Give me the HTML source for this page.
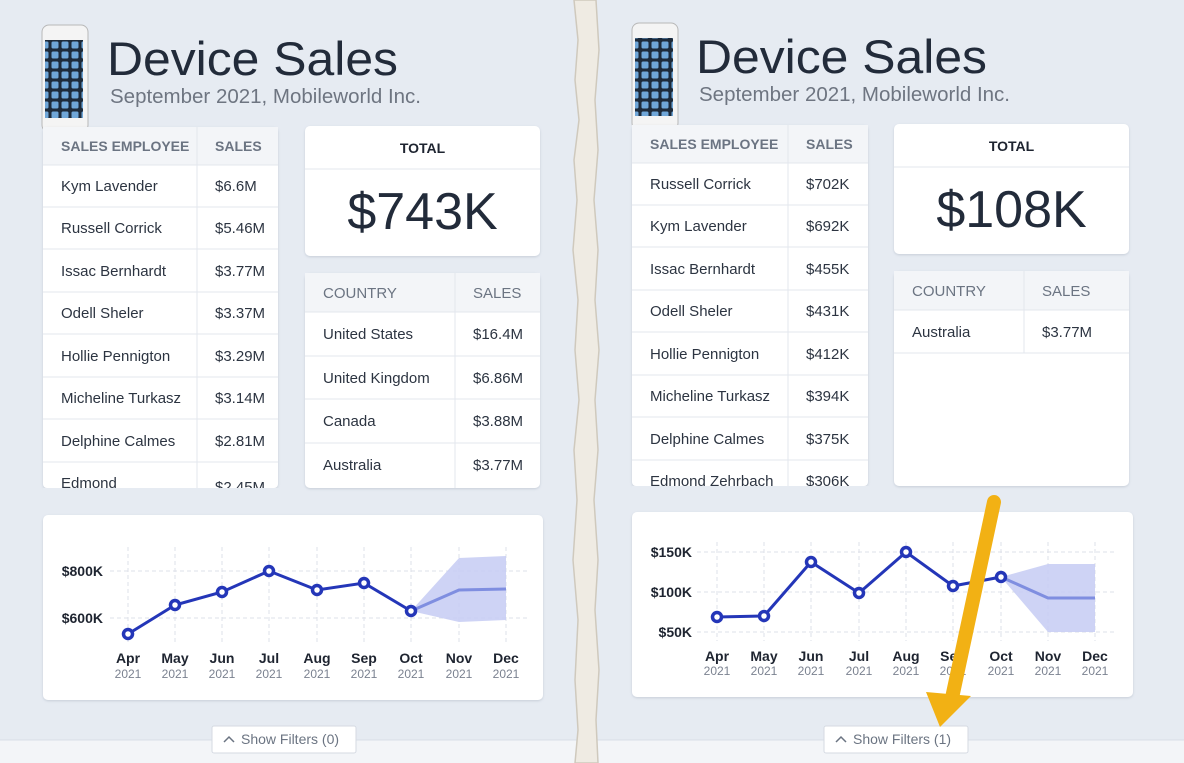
<!DOCTYPE html>
<html><head><meta charset="utf-8"><style>
html,body{margin:0;padding:0;background:#e6ebf2;}
svg{display:block;font-family:"Liberation Sans",sans-serif;}
</style></head><body>
<svg width="1184" height="763" viewBox="0 0 1184 763" xmlns="http://www.w3.org/2000/svg">
<defs>
<filter id="sh" x="-5%" y="-5%" width="110%" height="110%"><feDropShadow dx="0" dy="1" stdDeviation="1.2" flood-color="#8a94a6" flood-opacity="0.35"/></filter>
<pattern id="icons" width="10" height="10" patternUnits="userSpaceOnUse"><rect width="10" height="10" fill="#1d2a3a"/><rect x="1.5" y="1.5" width="7" height="7" rx="1.5" fill="#6fa6d8"/></pattern>
</defs>
<rect width="1184" height="763" fill="#e6ebf2"/>
<rect x="0" y="740" width="1184" height="23" fill="#f3f5f8"/>
<line x1="0" y1="740" x2="1184" y2="740" stroke="#d8dee7"/>

<g>
<rect x="42" y="25" width="46" height="107" rx="7" fill="#f4f4f4" stroke="#b8b8b8"/>
<rect x="45" y="40" width="38" height="78" fill="url(#icons)"/>
<text x="107" y="75" font-size="47" fill="#222b3a" textLength="291" lengthAdjust="spacingAndGlyphs">Device Sales</text>
<text x="110" y="103" font-size="20" fill="#6e7581" textLength="311" lengthAdjust="spacingAndGlyphs">September 2021, Mobileworld Inc.</text>

<g filter="url(#sh)"><rect x="43" y="127" width="235" height="361" rx="4" fill="#fff"/></g>
<rect x="43" y="127" width="235" height="38" fill="#f3f5f8"/>
<line x1="197" y1="127" x2="197" y2="488" stroke="#e3e7ed"/>
<g font-size="14" fill="#6b7482" font-weight="bold"><text x="61" y="151">SALES EMPLOYEE</text><text x="215" y="151">SALES</text></g>
<g stroke="#e3e7ed"><line x1="43" y1="165" x2="278" y2="165"/><line x1="43" y1="207" x2="278" y2="207"/><line x1="43" y1="249" x2="278" y2="249"/><line x1="43" y1="292" x2="278" y2="292"/><line x1="43" y1="334" x2="278" y2="334"/><line x1="43" y1="377" x2="278" y2="377"/><line x1="43" y1="419" x2="278" y2="419"/><line x1="43" y1="462" x2="278" y2="462"/></g>
<g font-size="15" fill="#2c3441">
<text x="61" y="191">Kym Lavender</text><text x="215" y="191">$6.6M</text>
<text x="61" y="233">Russell Corrick</text><text x="215" y="233">$5.46M</text>
<text x="61" y="276">Issac Bernhardt</text><text x="215" y="276">$3.77M</text>
<text x="61" y="318">Odell Sheler</text><text x="215" y="318">$3.37M</text>
<text x="61" y="361">Hollie Pennigton</text><text x="215" y="361">$3.29M</text>
<text x="61" y="403">Micheline Turkasz</text><text x="215" y="403">$3.14M</text>
<text x="61" y="446">Delphine Calmes</text><text x="215" y="446">$2.81M</text>
<text x="61" y="488">Edmond</text><text x="215" y="492">$2.45M</text>
</g>
<rect x="43" y="488" width="236" height="8" fill="#e6ebf2"/>

<g filter="url(#sh)"><rect x="305" y="126" width="235" height="130" rx="5" fill="#fff"/></g>
<line x1="305" y1="169" x2="540" y2="169" stroke="#e3e7ed"/>
<text x="422.5" y="153" font-size="14" font-weight="bold" fill="#1e2430" text-anchor="middle">TOTAL</text>
<text x="422.5" y="229" font-size="52" fill="#222b3a" text-anchor="middle">$743K</text>

<g filter="url(#sh)"><rect x="305" y="273" width="235" height="215" rx="5" fill="#fff"/></g>
<rect x="305" y="273" width="235" height="39" fill="#f3f5f8"/>
<line x1="455" y1="273" x2="455" y2="488" stroke="#e3e7ed"/>
<g stroke="#e3e7ed"><line x1="305" y1="312" x2="540" y2="312"/><line x1="305" y1="356" x2="540" y2="356"/><line x1="305" y1="399" x2="540" y2="399"/><line x1="305" y1="443" x2="540" y2="443"/></g>
<g font-size="15" fill="#6b7482"><text x="323" y="298">COUNTRY</text><text x="473" y="298">SALES</text></g>
<g font-size="15" fill="#2c3441">
<text x="323" y="339">United States</text><text x="473" y="339">$16.4M</text>
<text x="323" y="383">United Kingdom</text><text x="473" y="383">$6.86M</text>
<text x="323" y="426">Canada</text><text x="473" y="426">$3.88M</text>
<text x="323" y="470">Australia</text><text x="473" y="470">$3.77M</text>
</g>

<g filter="url(#sh)"><rect x="43" y="515" width="500" height="185" rx="5" fill="#fff"/></g>
<g stroke="#dde1e8" stroke-dasharray="4,3">
<line x1="128" y1="547" x2="128" y2="643"/><line x1="175" y1="547" x2="175" y2="643"/><line x1="222" y1="547" x2="222" y2="643"/><line x1="269" y1="547" x2="269" y2="643"/><line x1="317" y1="547" x2="317" y2="643"/><line x1="364" y1="547" x2="364" y2="643"/><line x1="411" y1="547" x2="411" y2="643"/><line x1="459" y1="547" x2="459" y2="643"/><line x1="506" y1="547" x2="506" y2="643"/>
<line x1="110" y1="571" x2="528" y2="571"/><line x1="110" y1="618" x2="528" y2="618"/>
</g>
<g font-size="14" font-weight="bold" fill="#1e2430" text-anchor="end"><text x="103" y="576">$800K</text><text x="103" y="623">$600K</text></g>
<polygon points="411,611 459,558 506,556 506,620 459,622" fill="#c5cbf3" opacity="0.85"/>
<polyline points="411,611 459,590 506,589" fill="none" stroke="#7f8ee0" stroke-width="3"/>
<polyline points="128,634 175,605 222,592 269,571 317,590 364,583 411,611" fill="none" stroke="#2436b8" stroke-width="3"/>
<g fill="#fff" stroke="#2436b8" stroke-width="3.5"><circle cx="128" cy="634" r="4.5"/><circle cx="175" cy="605" r="4.5"/><circle cx="222" cy="592" r="4.5"/><circle cx="269" cy="571" r="4.5"/><circle cx="317" cy="590" r="4.5"/><circle cx="364" cy="583" r="4.5"/><circle cx="411" cy="611" r="4.5"/></g>
<g font-size="14" font-weight="bold" fill="#1e2430" text-anchor="middle"><text x="128" y="663">Apr</text><text x="175" y="663">May</text><text x="222" y="663">Jun</text><text x="269" y="663">Jul</text><text x="317" y="663">Aug</text><text x="364" y="663">Sep</text><text x="411" y="663">Oct</text><text x="459" y="663">Nov</text><text x="506" y="663">Dec</text></g>
<g font-size="12" fill="#7b8290" text-anchor="middle"><text x="128" y="678">2021</text><text x="175" y="678">2021</text><text x="222" y="678">2021</text><text x="269" y="678">2021</text><text x="317" y="678">2021</text><text x="364" y="678">2021</text><text x="411" y="678">2021</text><text x="459" y="678">2021</text><text x="506" y="678">2021</text></g>

<rect x="212" y="726" width="144" height="27" rx="2" fill="#fff" stroke="#d5dae2"/>
<polyline points="224,742 229,737 234,742" fill="none" stroke="#6b7482" stroke-width="1.5"/>
<text x="241" y="744" font-size="14" fill="#6b7482">Show Filters (0)</text>
</g>

<g>
<rect x="632" y="23" width="46" height="107" rx="7" fill="#f4f4f4" stroke="#b8b8b8"/>
<rect x="635" y="38" width="38" height="78" fill="url(#icons)"/>
<text x="696" y="73" font-size="47" fill="#222b3a" textLength="291" lengthAdjust="spacingAndGlyphs">Device Sales</text>
<text x="699" y="101" font-size="20" fill="#6e7581" textLength="311" lengthAdjust="spacingAndGlyphs">September 2021, Mobileworld Inc.</text>

<g filter="url(#sh)"><rect x="632" y="125" width="236" height="361" rx="4" fill="#fff"/></g>
<rect x="632" y="125" width="236" height="38" fill="#f3f5f8"/>
<line x1="788" y1="125" x2="788" y2="486" stroke="#e3e7ed"/>
<g font-size="14" fill="#6b7482" font-weight="bold"><text x="650" y="149">SALES EMPLOYEE</text><text x="806" y="149">SALES</text></g>
<g stroke="#e3e7ed"><line x1="632" y1="163" x2="868" y2="163"/><line x1="632" y1="205" x2="868" y2="205"/><line x1="632" y1="247" x2="868" y2="247"/><line x1="632" y1="290" x2="868" y2="290"/><line x1="632" y1="332" x2="868" y2="332"/><line x1="632" y1="375" x2="868" y2="375"/><line x1="632" y1="417" x2="868" y2="417"/><line x1="632" y1="460" x2="868" y2="460"/></g>
<g font-size="15" fill="#2c3441">
<text x="650" y="189">Russell Corrick</text><text x="806" y="189">$702K</text>
<text x="650" y="231">Kym Lavender</text><text x="806" y="231">$692K</text>
<text x="650" y="274">Issac Bernhardt</text><text x="806" y="274">$455K</text>
<text x="650" y="316">Odell Sheler</text><text x="806" y="316">$431K</text>
<text x="650" y="359">Hollie Pennigton</text><text x="806" y="359">$412K</text>
<text x="650" y="401">Micheline Turkasz</text><text x="806" y="401">$394K</text>
<text x="650" y="444">Delphine Calmes</text><text x="806" y="444">$375K</text>
<text x="650" y="486">Edmond Zehrbach</text><text x="806" y="486">$306K</text>
</g>
<rect x="632" y="486" width="237" height="8" fill="#e6ebf2"/>

<g filter="url(#sh)"><rect x="894" y="124" width="235" height="130" rx="5" fill="#fff"/></g>
<line x1="894" y1="167" x2="1129" y2="167" stroke="#e3e7ed"/>
<text x="1011.5" y="151" font-size="14" font-weight="bold" fill="#1e2430" text-anchor="middle">TOTAL</text>
<text x="1011.5" y="227" font-size="52" fill="#222b3a" text-anchor="middle">$108K</text>

<g filter="url(#sh)"><rect x="894" y="271" width="235" height="215" rx="5" fill="#fff"/></g>
<rect x="894" y="271" width="235" height="39" fill="#f3f5f8"/>
<line x1="1024" y1="271" x2="1024" y2="353" stroke="#e3e7ed"/>
<g stroke="#e3e7ed"><line x1="894" y1="310" x2="1129" y2="310"/><line x1="894" y1="353" x2="1129" y2="353"/></g>
<g font-size="15" fill="#6b7482"><text x="912" y="296">COUNTRY</text><text x="1042" y="296">SALES</text></g>
<g font-size="15" fill="#2c3441"><text x="912" y="337">Australia</text><text x="1042" y="337">$3.77M</text></g>

<g filter="url(#sh)"><rect x="632" y="512" width="501" height="185" rx="5" fill="#fff"/></g>
<g stroke="#dde1e8" stroke-dasharray="4,3">
<line x1="717" y1="542" x2="717" y2="641"/><line x1="764" y1="542" x2="764" y2="641"/><line x1="811" y1="542" x2="811" y2="641"/><line x1="859" y1="542" x2="859" y2="641"/><line x1="906" y1="542" x2="906" y2="641"/><line x1="953" y1="542" x2="953" y2="641"/><line x1="1001" y1="542" x2="1001" y2="641"/><line x1="1048" y1="542" x2="1048" y2="641"/><line x1="1095" y1="542" x2="1095" y2="641"/>
<line x1="697" y1="552" x2="1117" y2="552"/><line x1="697" y1="592" x2="1117" y2="592"/><line x1="697" y1="632" x2="1117" y2="632"/>
</g>
<g font-size="14" font-weight="bold" fill="#1e2430" text-anchor="end"><text x="692" y="557">$150K</text><text x="692" y="597">$100K</text><text x="692" y="637">$50K</text></g>
<polygon points="1001,577 1048,564 1095,564 1095,632 1048,632" fill="#c5cbf3" opacity="0.85"/>
<polyline points="1001,577 1048,598 1095,598" fill="none" stroke="#7f8ee0" stroke-width="3"/>
<polyline points="717,617 764,616 811,562 859,593 906,552 953,586 1001,577" fill="none" stroke="#2436b8" stroke-width="3"/>
<g fill="#fff" stroke="#2436b8" stroke-width="3.5"><circle cx="717" cy="617" r="4.5"/><circle cx="764" cy="616" r="4.5"/><circle cx="811" cy="562" r="4.5"/><circle cx="859" cy="593" r="4.5"/><circle cx="906" cy="552" r="4.5"/><circle cx="953" cy="586" r="4.5"/><circle cx="1001" cy="577" r="4.5"/></g>
<g font-size="14" font-weight="bold" fill="#1e2430" text-anchor="middle"><text x="717" y="661">Apr</text><text x="764" y="661">May</text><text x="811" y="661">Jun</text><text x="859" y="661">Jul</text><text x="906" y="661">Aug</text><text x="953" y="661">Sep</text><text x="1001" y="661">Oct</text><text x="1048" y="661">Nov</text><text x="1095" y="661">Dec</text></g>
<g font-size="12" fill="#7b8290" text-anchor="middle"><text x="717" y="675">2021</text><text x="764" y="675">2021</text><text x="811" y="675">2021</text><text x="859" y="675">2021</text><text x="906" y="675">2021</text><text x="953" y="675">2021</text><text x="1001" y="675">2021</text><text x="1048" y="675">2021</text><text x="1095" y="675">2021</text></g>

<rect x="824" y="726" width="144" height="27" rx="2" fill="#fff" stroke="#d5dae2"/>
<polyline points="836,742 841,737 846,742" fill="none" stroke="#6b7482" stroke-width="1.5"/>
<text x="853" y="744" font-size="14" fill="#6b7482">Show Filters (1)</text>

<line x1="994" y1="502" x2="952" y2="698" stroke="#f2b114" stroke-width="14" stroke-linecap="round"/>
<polygon points="926,692 971,696 940,727" fill="#f2b114"/>
</g>

<path d="M574,0 L578,40 L575,80 L579,120 L574,160 L577,200 L573,250 L578,300 L575,350 L579,400 L574,450 L577,500 L573,560 L578,620 L575,680 L578,730 L575,763 L598,763 L596,720 L599,670 L595,610 L598,560 L594,500 L598,450 L595,400 L599,350 L595,300 L598,250 L594,200 L598,150 L595,100 L599,50 L596,0 Z" fill="#efebe3" stroke="#cfc9bd" stroke-width="1.5"/>
</svg>
</body></html>
